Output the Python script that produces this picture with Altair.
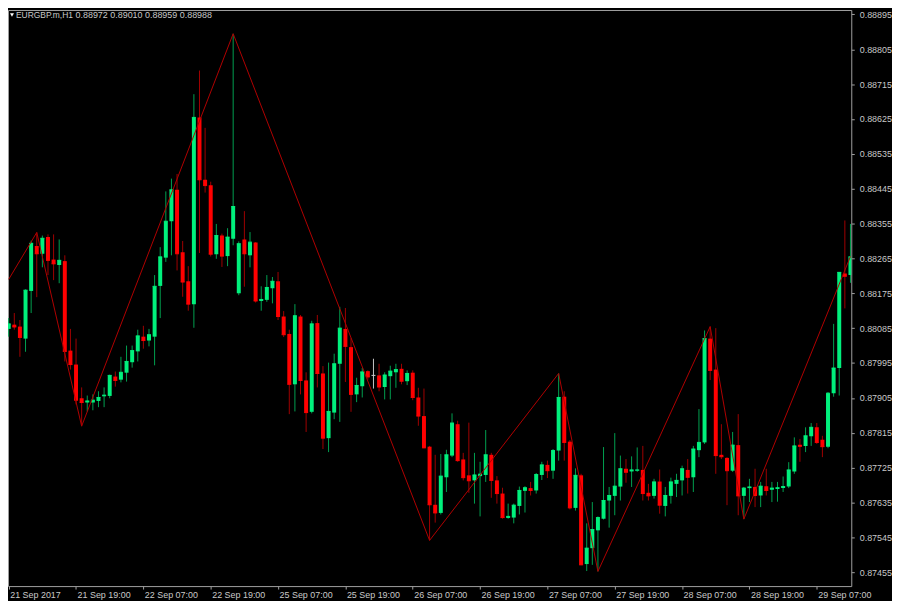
import json
import altair as alt
import pandas as pd

# ---- chart values ----
opens = [0.88083, 0.88094, 0.88089, 0.88058, 0.88181, 0.88297, 0.88277, 0.88320, 0.88262, 0.88248,
         0.88258, 0.88027, 0.87991, 0.87904, 0.87893, 0.87893, 0.87897, 0.87909, 0.87910, 0.87960,
         0.87952, 0.87970, 0.87997, 0.88025, 0.88063, 0.88053, 0.88063, 0.88194, 0.88267, 0.88361,
         0.88442, 0.88281, 0.88206, 0.88147, 0.88629, 0.88468, 0.88454, 0.88276, 0.88324, 0.88271,
         0.88316, 0.88175, 0.88314, 0.88273, 0.88306, 0.88155, 0.88158, 0.88188, 0.88206, 0.88115,
         0.88070, 0.87940, 0.88115, 0.87950, 0.87869, 0.88098, 0.87968, 0.87801, 0.87867, 0.87993,
         0.88083, 0.88036, 0.87914, 0.87935, 0.87974, 0.87963, 0.87963, 0.87933, 0.87961, 0.87971,
         0.87980, 0.87948, 0.87970, 0.87906, 0.87858, 0.87779, 0.87629, 0.87608, 0.87700, 0.87756,
         0.87837, 0.87746, 0.87705, 0.87692, 0.87703, 0.87706, 0.87758, 0.87692, 0.87658, 0.87595,
         0.87596, 0.87626, 0.87665, 0.87672, 0.87666, 0.87706, 0.87732, 0.87717, 0.87769, 0.87908,
         0.87792, 0.87621, 0.87705, 0.87476, 0.87517, 0.87563, 0.87593, 0.87640, 0.87652, 0.87676,
         0.87722, 0.87715, 0.87717, 0.87719, 0.87660, 0.87652, 0.87689, 0.87626, 0.87652, 0.87683,
         0.87692, 0.87719, 0.87700, 0.87770, 0.87790, 0.88058, 0.87978, 0.87758, 0.87750, 0.87717,
         0.87783, 0.87652, 0.87672, 0.87675, 0.87653, 0.87677, 0.87668, 0.87670, 0.87672, 0.87676,
         0.87715, 0.87784, 0.87781, 0.87806, 0.87829, 0.87797, 0.87779, 0.87917, 0.87982, 0.88226,
         0.88222]
highs = [0.88111, 0.88124, 0.88106, 0.88185, 0.88311, 0.88332, 0.88324, 0.88327, 0.88327, 0.88314,
         0.88273, 0.88083, 0.88058, 0.87932, 0.87911, 0.87914, 0.87922, 0.87932, 0.87965, 0.87973,
         0.88011, 0.88040, 0.88040, 0.88081, 0.88091, 0.88083, 0.88222, 0.88294, 0.88438, 0.88471,
         0.88483, 0.88310, 0.88245, 0.88689, 0.88750, 0.88602, 0.88463, 0.88354, 0.88329, 0.88343,
         0.88845, 0.88309, 0.88387, 0.88333, 0.88307, 0.88193, 0.88222, 0.88217, 0.88230, 0.88129,
         0.88081, 0.88147, 0.88119, 0.87971, 0.88104, 0.88119, 0.87987, 0.87996, 0.88019, 0.88140,
         0.88137, 0.88059, 0.87957, 0.87982, 0.87976, 0.88006, 0.87993, 0.87971, 0.87988, 0.87993,
         0.87993, 0.87976, 0.87976, 0.87931, 0.87929, 0.87781, 0.87758, 0.87760, 0.87771, 0.87865,
         0.87846, 0.87763, 0.87841, 0.87763, 0.87740, 0.87822, 0.87763, 0.87703, 0.87673, 0.87632,
         0.87632, 0.87676, 0.87677, 0.87688, 0.87711, 0.87740, 0.87743, 0.87773, 0.87968, 0.87922,
         0.87796, 0.87723, 0.87709, 0.87581, 0.87636, 0.87599, 0.87778, 0.87675, 0.87814, 0.87756,
         0.87747, 0.87754, 0.87777, 0.87781, 0.87683, 0.87696, 0.87720, 0.87675, 0.87699, 0.87709,
         0.87730, 0.87747, 0.87781, 0.87876, 0.88079, 0.88089, 0.88085, 0.87837, 0.87752, 0.87817,
         0.87863, 0.87675, 0.87696, 0.87722, 0.87688, 0.87722, 0.87688, 0.87688, 0.87702, 0.87739,
         0.87803, 0.87799, 0.87829, 0.87840, 0.87840, 0.87807, 0.87920, 0.88096, 0.88229, 0.88363,
         0.88354]
lows = [0.88063, 0.88081, 0.88011, 0.88024, 0.88124, 0.88165, 0.88242, 0.88222, 0.88209, 0.88201,
        0.87999, 0.87978, 0.87888, 0.87832, 0.87870, 0.87873, 0.87881, 0.87881, 0.87904, 0.87934,
        0.87945, 0.87947, 0.87983, 0.87999, 0.88032, 0.88038, 0.87989, 0.88111, 0.88256, 0.88273,
        0.88234, 0.88166, 0.88130, 0.88086, 0.88279, 0.88435, 0.88270, 0.88264, 0.88243, 0.88245,
        0.88299, 0.88170, 0.88192, 0.88242, 0.88151, 0.88130, 0.88153, 0.88149, 0.88106, 0.88062,
        0.87863, 0.87870, 0.87914, 0.87817, 0.87865, 0.87932, 0.87773, 0.87765, 0.87850, 0.87843,
        0.87946, 0.87869, 0.87894, 0.87906, 0.87952, 0.87929, 0.87922, 0.87901, 0.87901, 0.87931,
        0.87940, 0.87938, 0.87899, 0.87833, 0.87775, 0.87537, 0.87583, 0.87604, 0.87662, 0.87752,
        0.87740, 0.87692, 0.87660, 0.87632, 0.87599, 0.87688, 0.87647, 0.87632, 0.87593, 0.87593,
        0.87581, 0.87604, 0.87609, 0.87653, 0.87658, 0.87693, 0.87698, 0.87696, 0.87743, 0.87743,
        0.87617, 0.87614, 0.87473, 0.87458, 0.87474, 0.87457, 0.87591, 0.87570, 0.87602, 0.87640,
        0.87686, 0.87675, 0.87714, 0.87640, 0.87640, 0.87645, 0.87606, 0.87599, 0.87632, 0.87649,
        0.87653, 0.87658, 0.87662, 0.87752, 0.87786, 0.87951, 0.87709, 0.87747, 0.87628, 0.87714,
        0.87602, 0.87592, 0.87636, 0.87623, 0.87623, 0.87653, 0.87636, 0.87637, 0.87662, 0.87672,
        0.87709, 0.87740, 0.87765, 0.87781, 0.87786, 0.87752, 0.87775, 0.87908, 0.87911, 0.88136,
        0.88202]
closes = [0.88096, 0.88088, 0.88061, 0.88183, 0.88304, 0.88277, 0.88317, 0.88260, 0.88251, 0.88260,
          0.88025, 0.87991, 0.87899, 0.87893, 0.87897, 0.87899, 0.87906, 0.87912, 0.87963, 0.87950,
          0.87971, 0.87999, 0.88027, 0.88065, 0.88053, 0.88068, 0.88193, 0.88269, 0.88361, 0.88442,
          0.88277, 0.88204, 0.88147, 0.88629, 0.88468, 0.88453, 0.88276, 0.88324, 0.88271, 0.88320,
          0.88399, 0.88303, 0.88277, 0.88307, 0.88155, 0.88159, 0.88190, 0.88206, 0.88115, 0.88068,
          0.87940, 0.88117, 0.87950, 0.87867, 0.88096, 0.87968, 0.87801, 0.87870, 0.87993, 0.88085,
          0.88038, 0.87914, 0.87937, 0.87972, 0.87959, 0.87963, 0.87933, 0.87964, 0.87974, 0.87978,
          0.87948, 0.87968, 0.87906, 0.87858, 0.87776, 0.87629, 0.87608, 0.87703, 0.87758, 0.87840,
          0.87743, 0.87699, 0.87691, 0.87706, 0.87708, 0.87758, 0.87692, 0.87658, 0.87596, 0.87599,
          0.87628, 0.87666, 0.87673, 0.87666, 0.87707, 0.87732, 0.87717, 0.87769, 0.87906, 0.87790,
          0.87621, 0.87705, 0.87474, 0.87517, 0.87565, 0.87596, 0.87640, 0.87653, 0.87677, 0.87722,
          0.87713, 0.87719, 0.87719, 0.87658, 0.87652, 0.87688, 0.87628, 0.87653, 0.87688, 0.87692,
          0.87722, 0.87700, 0.87773, 0.87790, 0.88058, 0.87976, 0.87756, 0.87753, 0.87717, 0.87783,
          0.87652, 0.87672, 0.87675, 0.87653, 0.87677, 0.87666, 0.87672, 0.87673, 0.87676, 0.87719,
          0.87781, 0.87780, 0.87807, 0.87829, 0.87790, 0.87779, 0.87917, 0.87982, 0.88229, 0.88219,
          0.88269]

# ZigZag indicator turning points (bar number, price)
zigzag_bars = [0, 5, 13, 40, 75, 98, 105, 125, 131, 150]
zigzag_prices = [0.88211, 0.88332, 0.87832, 0.88845, 0.87537, 0.87968, 0.87457, 0.88089, 0.87592, 0.88270]

# time axis: one label every 12 hourly bars
time_tick_bars = [0, 12, 24, 36, 48, 60, 72, 84, 96, 108, 120, 132, 144]
time_tick_labels = ["21 Sep 2017", "21 Sep 19:00", "22 Sep 07:00", "22 Sep 19:00",
                    "25 Sep 07:00", "25 Sep 19:00", "26 Sep 07:00", "26 Sep 19:00",
                    "27 Sep 07:00", "27 Sep 19:00", "28 Sep 07:00", "28 Sep 19:00",
                    "29 Sep 07:00"]
price_ticks = [0.87455, 0.87545, 0.87635, 0.87725, 0.87815, 0.87905, 0.87995, 0.88085,
               0.88175, 0.88265, 0.88355, 0.88445, 0.88535, 0.88625, 0.88715, 0.88805, 0.88895]

header_symbol = "EURGBP.m,H1"
header_quote = "0.88972 0.89010 0.88959 0.88988"

# ---- styling ----
FONT = "Liberation Sans"
TEXT_COL = "#C8C8C8"
BORDER_COL = "#A0A0A0"
BULL_BODY = "#00F07C"
BEAR_BODY = "#FF0000"
BULL_WICK = "#00A050"
BEAR_WICK = "#A00000"
FLAT_COL = "#C8C8C8"
ZIGZAG_COL = "#B00000"

n = len(opens)
df = pd.DataFrame({
    "bar": list(range(n)),
    "open": opens, "high": highs, "low": lows, "close": closes,
})
df["body_lo"] = df[["open", "close"]].min(axis=1)
df["body_hi"] = df[["open", "close"]].max(axis=1)
df["dir"] = ["up" if c > o else ("down" if c < o else "flat") for o, c in zip(opens, closes)]

zz = pd.DataFrame({"bar": zigzag_bars, "price": zigzag_prices})

xscale = alt.Scale(domain=[-0.124, 150.146], nice=False, zero=False, padding=0)
yscale = alt.Scale(domain=[0.874191, 0.889063], nice=False, zero=False, padding=0)

label_expr = json.dumps(time_tick_labels) + "[round(datum.value / 12)]"
xaxis = alt.Axis(values=time_tick_bars, labelExpr=label_expr, title=None, grid=False,
                 domain=False, labelAlign="left", labelFlush=False, labelOverlap=False,
                 labelPadding=1, labelOffset=1, tickSize=3, orient="bottom")
yaxis = alt.Axis(values=price_ticks, format=".5f", title=None, grid=False, domain=False,
                 orient="right", tickSize=3, labelPadding=5, labelFlush=False, labelOverlap=False)

X = alt.X("bar:Q", scale=xscale, axis=xaxis)

body_color = alt.Color("dir:N", scale=alt.Scale(domain=["up", "down", "flat"],
                                                range=[BULL_BODY, BEAR_BODY, FLAT_COL]), legend=None)
wick_color = alt.Color("dir:N", scale=alt.Scale(domain=["up", "down", "flat"],
                                                range=[BULL_WICK, BEAR_WICK, FLAT_COL]), legend=None)

base = alt.Chart(df)

wicks = base.mark_rule(strokeWidth=1, clip=True).encode(
    x=X,
    y=alt.Y("low:Q", scale=yscale, axis=yaxis),
    y2="high:Q",
    color=wick_color,
)
bodies = base.mark_bar(size=4, clip=True).encode(
    x=X,
    y=alt.Y("body_lo:Q", scale=yscale, axis=yaxis),
    y2="body_hi:Q",
    color=body_color,
)
close_lines = base.mark_rule(strokeWidth=1, xOffset=-2, x2Offset=2, clip=True).encode(
    x=X,
    x2="bar:Q",
    y=alt.Y("close:Q", scale=yscale, axis=yaxis),
    color=body_color,
)
zigzag = alt.Chart(zz).mark_line(color=ZIGZAG_COL, strokeWidth=1, clip=True).encode(
    x=alt.X("bar:Q", scale=xscale, axis=xaxis),
    y=alt.Y("price:Q", scale=yscale, axis=yaxis),
)

hdr = pd.DataFrame({"sym": [header_symbol], "quote": [header_quote]})
tri = alt.Chart(hdr).mark_point(shape="triangle-down", filled=True, size=16,
                                color="#FFFFFF", opacity=1).encode(
    x=alt.value(4), y=alt.value(5))
sym_text = alt.Chart(hdr).mark_text(align="left", baseline="middle", font=FONT,
                                    fontSize=8.5, color=TEXT_COL).encode(
    text="sym:N", x=alt.value(8), y=alt.value(5))
quote_text = alt.Chart(hdr).mark_text(align="left", baseline="middle", font=FONT,
                                      fontSize=9, color=TEXT_COL).encode(
    text="quote:N", x=alt.value(68), y=alt.value(5))

chart = alt.layer(
    wicks, bodies, close_lines, zigzag, tri, sym_text, quote_text
).resolve_scale(
    color="independent"
).properties(
    width=849, height=580, background="#000000", padding=0
).configure_view(
    stroke=BORDER_COL, strokeWidth=1, fill="#000000"
).configure_axis(
    labelColor=TEXT_COL, labelFont=FONT, labelFontSize=9, tickColor=BORDER_COL,
    tickWidth=1
)

chart.save("out.html", embed_options={"renderer": "svg", "actions": False})
